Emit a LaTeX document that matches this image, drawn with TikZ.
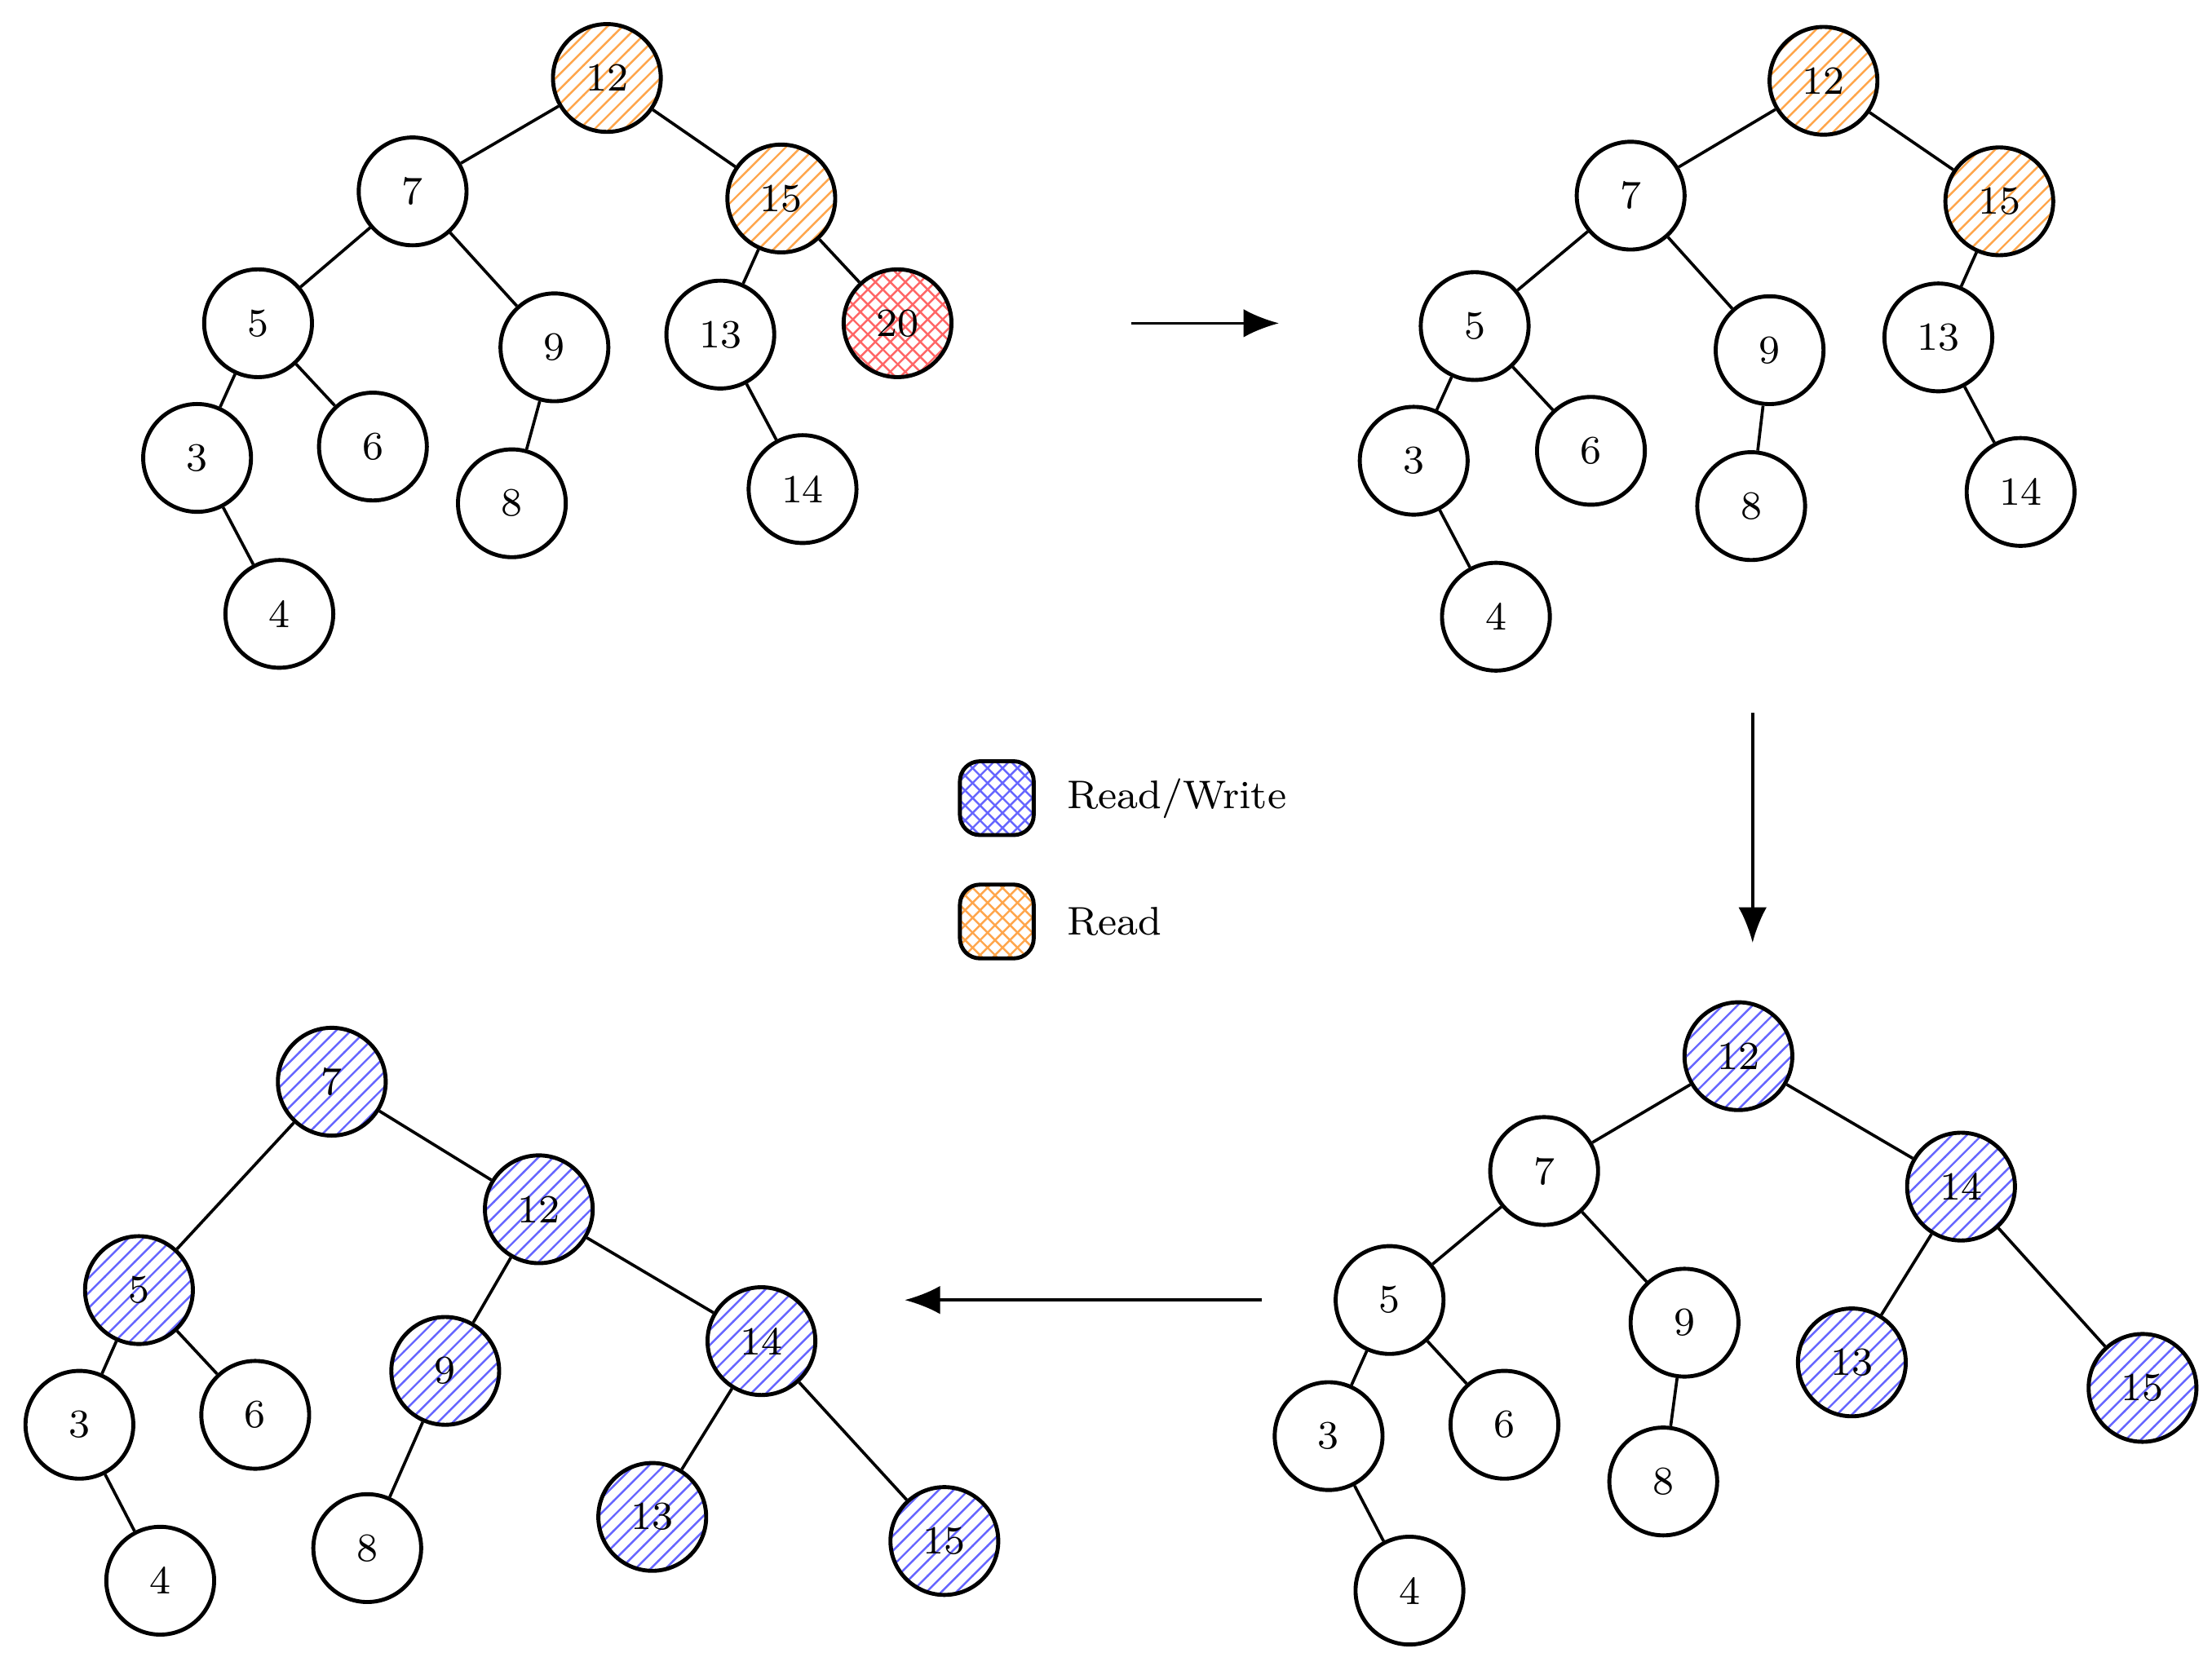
\documentclass[tikz,border=0pt]{standalone}
\usepackage{tikz}
\usetikzlibrary{patterns,arrows.meta}
\begin{document}
\begin{tikzpicture}
    [x=0.01cm, y=-0.01cm,
    key/.style={circle, draw, thick, minimum size=0.76cm, inner sep=0pt, font=\footnotesize, fill=white},
    read/.style={key, pattern=north east lines, pattern color=orange!70},
    write/.style={key, pattern=north east lines, pattern color=blue!60},
    added/.style={key, pattern=crosshatch, pattern color=red!60},
    move/.style={-{Latex[length=0.25cm,width=0.2cm]}, semithick},
    edge/.style={semithick}]
  \useasboundingbox (0,0) rectangle (1560,1175);

  % first tree
  \node [read] (a12) at (428,55) {12};
  \node [key] (a7) at (291,135) {7};
  \node [read] (a15) at (551,140) {15};
  \node [key] (a5) at (182,228) {5};
  \node [key] (a9) at (391,245) {9};
  \node [key] (a13) at (508,236) {13};
  \node [added] (a20) at (633,228) {20};
  \node [key] (a3) at (139,323) {3};
  \node [key] (a6) at (263,315) {6};
  \node [key] (a8) at (361,355) {8};
  \node [key] (a14) at (566,345) {14};
  \node [key] (a4) at (197,433) {4};
  \draw [edge] (a12) -- (a7);
  \draw [edge] (a12) -- (a15);
  \draw [edge] (a7) -- (a5);
  \draw [edge] (a7) -- (a9);
  \draw [edge] (a15) -- (a13);
  \draw [edge] (a15) -- (a20);
  \draw [edge] (a5) -- (a3);
  \draw [edge] (a5) -- (a6);
  \draw [edge] (a9) -- (a8);
  \draw [edge] (a13) -- (a14);
  \draw [edge] (a3) -- (a4);

  % second tree
  \node [read] (b12) at (1286,57) {12};
  \node [key] (b7) at (1150,138) {7};
  \node [read] (b15) at (1410,142) {15};
  \node [key] (b5) at (1040,230) {5};
  \node [key] (b9) at (1248,247) {9};
  \node [key] (b13) at (1367,238) {13};
  \node [key] (b3) at (997,325) {3};
  \node [key] (b6) at (1122,318) {6};
  \node [key] (b8) at (1235,357) {8};
  \node [key] (b14) at (1425,347) {14};
  \node [key] (b4) at (1055,435) {4};
  \draw [edge] (b12) -- (b7);
  \draw [edge] (b12) -- (b15);
  \draw [edge] (b7) -- (b5);
  \draw [edge] (b7) -- (b9);
  \draw [edge] (b15) -- (b13);
  \draw [edge] (b5) -- (b3);
  \draw [edge] (b5) -- (b6);
  \draw [edge] (b9) -- (b8);
  \draw [edge] (b13) -- (b14);
  \draw [edge] (b3) -- (b4);

  % third tree
  \node [write] (c12) at (1226,745) {12};
  \node [key] (c7) at (1089,826) {7};
  \node [write] (c14) at (1383,837) {14};
  \node [key] (c5) at (980,917) {5};
  \node [key] (c9) at (1188,933) {9};
  \node [write] (c13) at (1306,961) {13};
  \node [write] (c15) at (1511,979) {15};
  \node [key] (c3) at (937,1013) {3};
  \node [key] (c6) at (1061,1005) {6};
  \node [key] (c8) at (1173,1045) {8};
  \node [key] (c4) at (994,1122) {4};
  \draw [edge] (c12) -- (c7);
  \draw [edge] (c12) -- (c14);
  \draw [edge] (c7) -- (c5);
  \draw [edge] (c7) -- (c9);
  \draw [edge] (c14) -- (c13);
  \draw [edge] (c14) -- (c15);
  \draw [edge] (c5) -- (c3);
  \draw [edge] (c5) -- (c6);
  \draw [edge] (c9) -- (c8);
  \draw [edge] (c3) -- (c4);

  % fourth tree
  \node [write] (d7) at (234,763) {7};
  \node [write] (d5) at (98,910) {5};
  \node [write] (d12) at (380,853) {12};
  \node [key] (d3) at (56,1005) {3};
  \node [key] (d6) at (180,998) {6};
  \node [write] (d9) at (314,967) {9};
  \node [write] (d14) at (537,946) {14};
  \node [key] (d4) at (113,1115) {4};
  \node [key] (d8) at (259,1092) {8};
  \node [write] (d13) at (460,1070) {13};
  \node [write] (d15) at (666,1087) {15};
  \draw [edge] (d7) -- (d5);
  \draw [edge] (d7) -- (d12);
  \draw [edge] (d5) -- (d3);
  \draw [edge] (d5) -- (d6);
  \draw [edge] (d12) -- (d9);
  \draw [edge] (d12) -- (d14);
  \draw [edge] (d3) -- (d4);
  \draw [edge] (d9) -- (d8);
  \draw [edge] (d14) -- (d13);
  \draw [edge] (d14) -- (d15);

  % moves between the trees
  \coordinate (s1) at (798,228);
  \coordinate (e1) at (902,228);
  \coordinate (s2) at (1236,503);
  \coordinate (e2) at (1236,665);
  \coordinate (s3) at (890,917);
  \coordinate (e3) at (638,917);
  \draw [move] (s1) -- (e1);
  \draw [move] (s2) -- (e2);
  \draw [move] (s3) -- (e3);

  % legend
  \node [draw, thick, rounded corners=4pt, minimum size=0.52cm, fill=white,
    pattern=crosshatch, pattern color=blue!60] (lw) at (703,563) {};
  \node [draw, thick, rounded corners=4pt, minimum size=0.52cm, fill=white,
    pattern=crosshatch, pattern color=orange!70] (lr) at (703,650) {};
  \node [anchor=west, font=\footnotesize] (tw) at (740,563) {Read/Write};
  \node [anchor=west, font=\footnotesize] (tr) at (740,650) {Read};
\end{tikzpicture}
\end{document}
